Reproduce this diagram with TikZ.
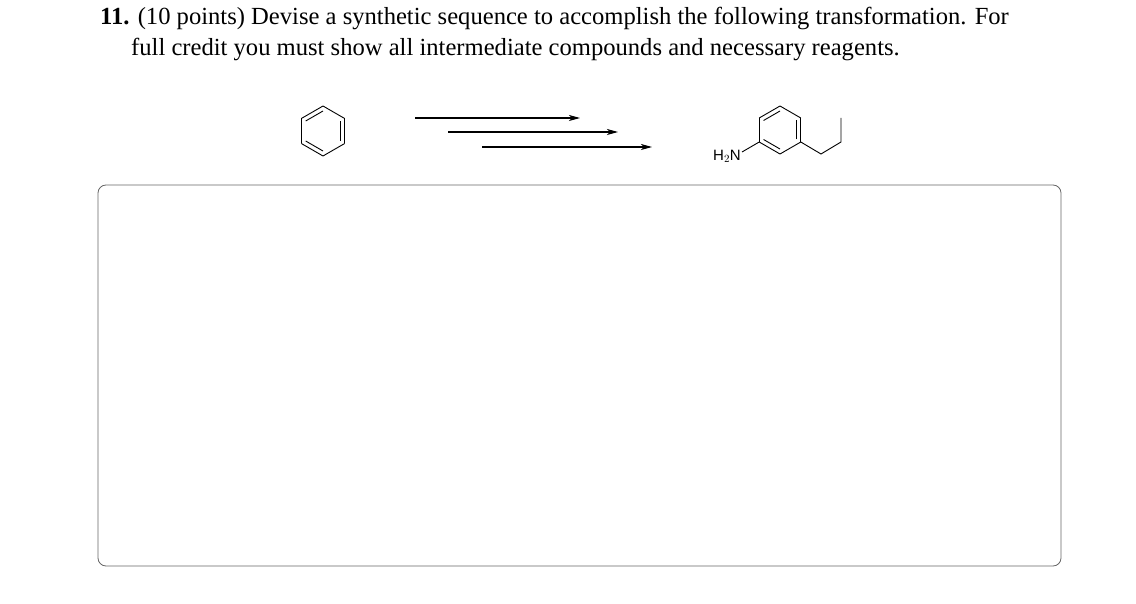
\documentclass[tikz,border=0pt]{standalone}
\usepackage{fontspec}
\setmainfont{Liberation Serif}
\newfontfamily\chemfont{Liberation Sans}
\usetikzlibrary{positioning,calc,arrows.meta}
\tikzset{bond/.style={line width=0.9pt},
  rxn/.style={line width=1.1pt,-{Stealth[length=11pt,width=6pt,inset=3pt]}}}
\begin{document}
\begin{tikzpicture}[x=1pt,y=-1pt]
\useasboundingbox (0,0) rectangle (1136,604);
% question text
\node[anchor=base west,font=\fontsize{24.6}{28}\selectfont,inner sep=0] (q1) at (100,25) {\textbf{11.} (10 points) Devise a synthetic sequence to accomplish the following transformation. For};
\node[anchor=base west,font=\fontsize{24.6}{28}\selectfont,inner sep=0] (q2) at (131,56) {full credit you must show all intermediate compounds and necessary reagents.};

% benzene
\coordinate (b) at (323,131);
\foreach \a in {90,30,-30,-90,-150,150}
  \draw[bond] ($(b)+(\a:25)$) -- ($(b)+(\a-60:25)$);
\foreach \a in {150,30,-90}
  \draw[bond] ($(b)+(\a:20)$) -- ($(b)+(\a-60:20)$);

% arrows
\coordinate (a1) at (415,118); \coordinate (a1e) at (580,118);
\coordinate (a2) at (448,132); \coordinate (a2e) at (618,132);
\coordinate (a3) at (482,147); \coordinate (a3e) at (652,147);
\draw[rxn] (a1) -- (a1e);
\draw[rxn] (a2) -- (a2e);
\draw[rxn] (a3) -- (a3e);

% product
\coordinate (p) at (780,130);
\foreach \a in {90,30,-30,-90,-150,150}
  \draw[bond] ($(p)+(\a:24)$) -- ($(p)+(\a-60:24)$);
\foreach \a in {-90,30,150}
  \draw[bond] ($(p)+(\a:19)$) -- ($(p)+(\a-60:19)$);
\node[font=\chemfont\fontsize{15}{15}\selectfont,inner sep=1pt] (nh) at (727,156) {H$_2$N};
\coordinate (r1) at ($(p)+(150:24)$);
\draw[bond] (r1) -- ($(nh.east)+(0,-4)$);
\coordinate (r2) at ($(p)+(30:24)$);
\coordinate (c1) at (821,154);
\coordinate (c2) at (841,142);
\coordinate (c3) at (841,118);
\draw[bond] (r2) -- (c1) -- (c2) -- (c3);

% answer box
\draw[line width=0.8pt,draw=black!60,rounded corners=8] (98,185) rectangle (1061,566);
\end{tikzpicture}
\end{document}
